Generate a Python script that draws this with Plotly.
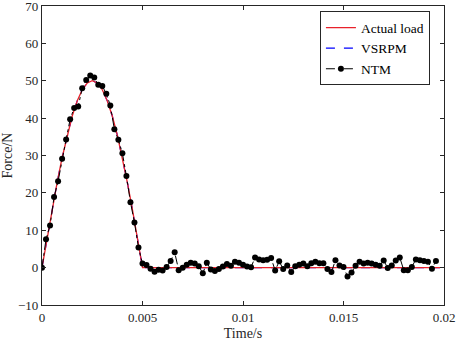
import plotly.graph_objects as go

# Actual load
actual_t = [0, 0.00025, 0.0005, 0.00075, 0.001, 0.00125, 0.0015, 0.00175, 0.002, 0.00225,
            0.0025, 0.00275, 0.003, 0.00325, 0.0035, 0.00375, 0.004, 0.00425, 0.0045, 0.00475,
            0.005, 0.0198]
actual_f = [0, 7.8, 15.5, 22.7, 29.4, 35.4, 40.5, 44.6, 47.6, 49.4,
            50.0, 49.4, 47.6, 44.6, 40.5, 35.4, 29.4, 22.7, 15.5, 7.8,
            0, 0]

# VSRPM (blue dashed, nearly coincident with actual load)
vsrpm_t = actual_t
vsrpm_f = [0, 7.8, 15.5, 22.7, 29.4, 35.4, 40.5, 44.6, 47.6, 49.4,
           50.0, 49.4, 47.6, 44.6, 40.5, 35.4, 29.4, 22.7, 15.5, 7.8,
           0, 0]

# NTM (black dash-dot with dots), sampled every 0.0002 s
ntm_f = [0, 7.6, 11.3, 18.9, 23.1, 29.1, 34.3, 39.7, 42.7, 43.1,
         48.0, 50.2, 51.4, 50.9, 48.9, 48.6, 46.5, 43.4, 37.0, 34.2,
         30.6, 24.5, 17.5, 12.1, 5.4, 1.1, 0.7, -0.3, -1.1, -0.6,
         -0.8, 0.2, 1.8, 4.1, -0.7, 0.0, 0.8, 1.3, 1.1, 0.4,
         -1.5, 1.3, -0.5, -0.9, -0.4, 0.3, 1.0, 0.5, 1.6, 1.3,
         0.8, 0.3, 0.1, 2.7, 2.2, 2.0, 2.1, 2.6, -0.8, 1.7,
         -0.4, 0.6, -1.2, 0.4, 0.8, 1.1, 0.4, 1.2, 1.6, 1.2,
         1.2, -0.4, -1.2, 2.0, 0.6, 0.2, -2.4, -1.3, 0.5, 1.6,
         1.1, 1.3, 1.1, 0.8, 0.5, 1.9, -0.1, 0.6, 1.9, 2.7,
         -0.7, -0.7, 0.2, 2.2, 2.0, 1.8, 1.6, -0.3, 1.8]
ntm_dt = 0.0002
ntm_t = [i * ntm_dt for i in range(len(ntm_f))]

x_ticks = [0, 0.005, 0.01, 0.015, 0.02]
x_tick_labels = ["0", "0.005", "0.01", "0.015", "0.02"]
y_ticks = [-10, 0, 10, 20, 30, 40, 50, 60, 70]

font_family = "Liberation Serif, Times New Roman, serif"
axis_color = "#262626"

fig = go.Figure()
fig.add_trace(go.Scatter(x=vsrpm_t, y=vsrpm_f, mode="lines", name="VSRPM",
                         line=dict(color="#0000ff", width=1.2, dash="dash"), legendrank=2))
fig.add_trace(go.Scatter(x=actual_t, y=actual_f, mode="lines", name="Actual load",
                         line=dict(color="#e8212b", width=1.3), legendrank=1))
fig.add_trace(go.Scatter(x=ntm_t, y=ntm_f, mode="lines+markers", name="NTM",
                         line=dict(color="black", width=1, dash="dashdot"),
                         marker=dict(color="black", size=6), legendrank=3))

fig.update_layout(
    width=474, height=358,
    margin=dict(l=42, r=30, t=6, b=53, autoexpand=False),
    paper_bgcolor="white", plot_bgcolor="white",
    font=dict(family=font_family, size=13, color="#262626"),
    showlegend=True,
    legend=dict(x=0.965, y=0.982, xanchor="right", yanchor="top",
                bordercolor="#262626", borderwidth=1, bgcolor="white",
                font=dict(family=font_family, size=13.5, color="black"),
                tracegroupgap=0, itemwidth=30),
)
fig.update_xaxes(range=[0, 0.02], tickvals=x_ticks, ticktext=x_tick_labels,
                 ticks="inside", ticklen=4, tickcolor=axis_color,
                 showline=True, linecolor=axis_color, linewidth=1.3, mirror="ticks",
                 showgrid=False, zeroline=False, automargin=False,
                 ticklabeloverflow="allow",
                 title=dict(text="Time/s", font=dict(size=14), standoff=4))
fig.update_yaxes(range=[-10, 70], tickvals=y_ticks,
                 ticks="inside", ticklen=4, tickcolor=axis_color,
                 showline=True, linecolor=axis_color, linewidth=1.3, mirror="ticks",
                 showgrid=False, zeroline=False, automargin=False,
                 ticklabeloverflow="allow",
                 title=dict(text="Force/N", font=dict(size=14), standoff=4))

fig.write_html("out.html", config={"displayModeBar": False},
               post_script="document.body.style.margin='0px';")
